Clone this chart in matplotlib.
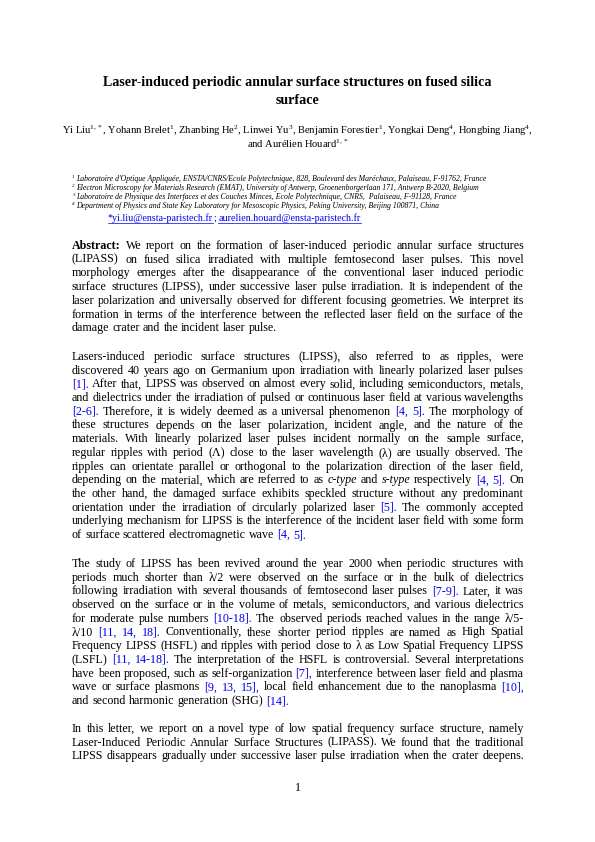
import matplotlib
matplotlib.use("Agg")
from matplotlib import pyplot as plt

plt.rcParams['font.family'] = ['Liberation Serif', 'DejaVu Serif']
plt.rcParams['mathtext.fontset'] = 'custom'
plt.rcParams['mathtext.rm'] = 'Liberation Serif'
plt.rcParams['mathtext.it'] = 'Liberation Serif:italic'

W, H = 595, 842
LEFT, RIGHT = 72, 524
BLUE = "#0000ee"

title_lines = ["Laser-induced periodic annular surface structures on fused silica", "surface"]
author_lines = [r"Yi Liu$^{1,*}$, Yohann Brelet$^{1}$, Zhanbing He$^{2}$, Linwei Yu$^{3}$, Benjamin Forestier$^{1}$, Yongkai Deng$^{4}$, Hongbing Jiang$^{4}$,",
                r"and Aurélien Houard$^{1,*}$"]
affiliations = [
    ("1", "Laboratoire d'Optique Appliquée, ENSTA/CNRS/Ecole Polytechnique, 828, Boulevard des Maréchaux, Palaiseau, F-91762, France"),
    ("2", "Electron Microscopy for Materials Research (EMAT), University of Antwerp, Groenenborgerlaan 171, Antwerp B-2020, Belgium"),
    ("3", "Laboratoire de Physique des Interfaces et des Couches Minces, Ecole Polytechnique, CNRS,  Palaiseau, F-91128, France"),
    ("4", "Department of Physics and State Key Laboratory for Mesoscopic Physics, Peking University, Beijing 100871, China"),
]
emails = ["*yi.liu@ensta-paristech.fr", "aurelien.houard@ensta-paristech.fr"]

paragraphs = [
    (249, [
        "*Abstract:* We report on the formation of laser-induced periodic annular surface structures",
        "(LIPASS) on fused silica irradiated with multiple femtosecond laser pulses. This novel",
        "morphology emerges after the disappearance of the conventional laser induced periodic",
        "surface structures (LIPSS), under successive laser pulse irradiation. It is independent of the",
        "laser polarization and universally observed for different focusing geometries. We interpret its",
        "formation in terms of the interference between the reflected laser field on the surface of the",
        "damage crater and the incident laser pulse."], True),
    (360, [
        "Lasers-induced periodic surface structures (LIPSS), also referred to as ripples, were",
        "discovered 40 years ago on Germanium upon irradiation with linearly polarized laser pulses",
        "[1]. After that, LIPSS was observed on almost every solid, including semiconductors, metals,",
        "and dielectrics under the irradiation of pulsed or continuous laser field at various wavelengths",
        "[2-6]. Therefore, it is widely deemed as a universal phenomenon [4, 5]. The morphology of",
        "these structures depends on the laser polarization, incident angle, and the nature of the",
        "materials. With linearly polarized laser pulses incident normally on the sample surface,",
        "regular ripples with period (Λ) close to the laser wavelength (λ) are usually observed. The",
        "ripples can orientate parallel or orthogonal to the polarization direction of the laser field,",
        "depending on the material, which are referred to as _c-type_ and _s-type_ respectively [4, 5]. On",
        "the other hand, the damaged surface exhibits speckled structure without any predominant",
        "orientation under the irradiation of circularly polarized laser [5]. The commonly accepted",
        "underlying mechanism for LIPSS is the interference of the incident laser field with some form",
        "of surface scattered electromagnetic wave [4, 5]."], True),
    (567, [
        "The study of LIPSS has been revived around the year 2000 when periodic structures with",
        "periods much shorter than λ/2 were observed on the surface or in the bulk of dielectrics",
        "following irradiation with several thousands of femtosecond laser pulses [7-9]. Later, it was",
        "observed on the surface or in the volume of metals, semiconductors, and various dielectrics",
        "for moderate pulse numbers [10-18]. The observed periods reached values in the range λ/5-",
        "λ/10 [11, 14, 18]. Conventionally, these shorter period ripples are named as High Spatial",
        "Frequency LIPSS (HSFL) and ripples with period close to λ as Low Spatial Frequency LIPSS",
        "(LSFL) [11, 14-18]. The interpretation of the HSFL is controversial. Several interpretations",
        "have been proposed, such as self-organization [7], interference between laser field and plasma",
        "wave or surface plasmons [9, 13, 15], local field enhancement due to the nanoplasma [10],",
        "and second harmonic generation (SHG) [14]."], True),
    (732, [
        "In this letter, we report on a novel type of low spatial frequency surface structure, namely",
        "Laser-Induced Periodic Annular Surface Structures (LIPASS). We found that the traditional",
        "LIPSS disappears gradually under successive laser pulse irradiation when the crater deepens."], False),
]

fig = plt.figure(figsize=(W / 72, H / 72), dpi=72)
fig.patch.set_facecolor("white")
renderer = fig.canvas.get_renderer()


def yy(y):
    return 1 - y / H


def width_of(s, **kw):
    t = fig.text(0, 0, s, **kw)
    w = t.get_window_extent(renderer).width
    t.remove()
    return w


def underline(x0, x1, y, color):
    fig.add_artist(plt.Line2D([x0 / W, x1 / W], [yy(y), yy(y)], color=color, lw=0.7))


def draw_line(text, y, justify, size=12):
    words = text.split(" ")
    styles = []
    in_ref = False
    for w in words:
        kw = dict(fontsize=size, color="black")
        if w.startswith("[") or in_ref:
            in_ref = "]" not in w
            kw["color"] = BLUE
        if w.startswith("*") and w.endswith("*"):
            w = w.strip("*")
            kw["fontweight"] = "bold"
        if w.startswith("_"):
            w = w.replace("_", "")
            kw["fontstyle"] = "italic"
        styles.append((w, kw))
    widths = [width_of(w, **kw) for w, kw in styles]
    space = width_of("a b", fontsize=size) - width_of("ab", fontsize=size)
    if justify and len(words) > 1:
        space = (RIGHT - LEFT - sum(widths)) / (len(words) - 1)
    x = LEFT
    for (w, kw), wd in zip(styles, widths):
        fig.text(x / W, yy(y), w, va="baseline", **kw)
        x += wd + space


# title
for i, s in enumerate(title_lines):
    fig.text(0.5, yy(86 + i * 18), s, ha="center", va="baseline", fontsize=14, fontweight="bold")

# authors
for i, s in enumerate(author_lines):
    fig.text(0.5, yy(134 + i * 13.5), s, ha="center", va="baseline", fontsize=10.5)

# affiliations
for i, (num, s) in enumerate(affiliations):
    y = 181 + i * 9
    fig.text(72 / W, yy(y - 3), num, va="baseline", fontsize=5, fontstyle="italic")
    fig.text(76 / W, yy(y), s, va="baseline", fontsize=7.7, fontstyle="italic")

# emails
x = 108
for j, e in enumerate(emails):
    fig.text(x / W, yy(221), e, va="baseline", fontsize=10, color=BLUE)
    wd = width_of(e, fontsize=10)
    underline(x, x + wd, 222.5, BLUE)
    x += wd
    if j == 0:
        fig.text(x / W, yy(221), ";", va="baseline", fontsize=10, color=BLUE)
        x += width_of("; ", fontsize=10)

# body
for y0, lines, last_free in paragraphs:
    for i, s in enumerate(lines):
        justify = not (last_free and i == len(lines) - 1)
        draw_line(s, y0 + i * 13.7, justify)

fig.text(0.5, yy(791), "1", ha="center", va="baseline", fontsize=12)

fig.savefig("out.png", dpi=72)
